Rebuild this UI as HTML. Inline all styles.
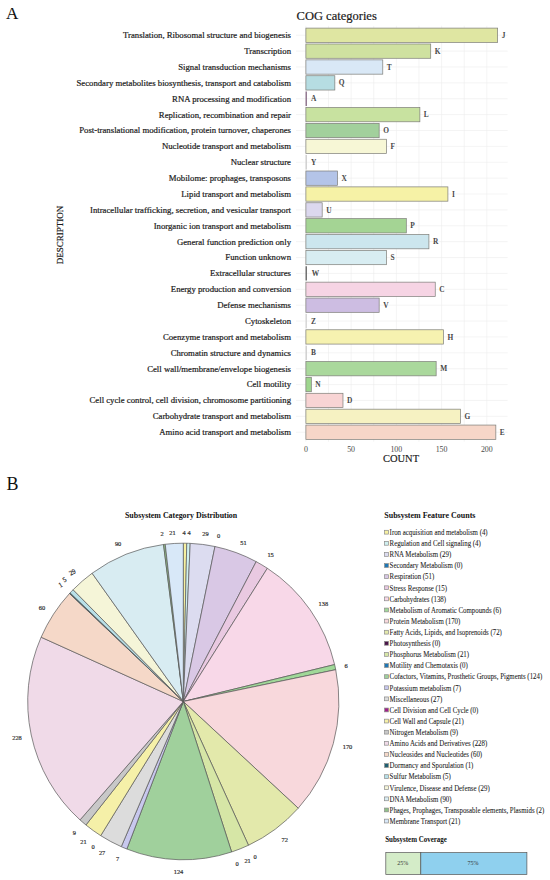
<!DOCTYPE html><html><head><meta charset="utf-8"><style>html,body{margin:0;padding:0;background:#fff;width:550px;height:880px;overflow:hidden}svg{display:block}text{font-family:"Liberation Serif",serif}</style></head><body>
<svg width="550" height="880" viewBox="0 0 550 880">
<rect width="550" height="880" fill="#fff"/>
<text x="6" y="18.7" font-size="17.2" fill="#111">A</text>
<text x="296.6" y="20.1" font-size="12.5" fill="#1a1a1a" stroke="#1a1a1a" stroke-width="0.2">COG categories</text>
<line x1="296" y1="35.25" x2="507.6" y2="35.25" stroke="#ececec" stroke-width="0.6"/>
<line x1="296" y1="51.13" x2="507.6" y2="51.13" stroke="#ececec" stroke-width="0.6"/>
<line x1="296" y1="67.01" x2="507.6" y2="67.01" stroke="#ececec" stroke-width="0.6"/>
<line x1="296" y1="82.88" x2="507.6" y2="82.88" stroke="#ececec" stroke-width="0.6"/>
<line x1="296" y1="98.76" x2="507.6" y2="98.76" stroke="#ececec" stroke-width="0.6"/>
<line x1="296" y1="114.64" x2="507.6" y2="114.64" stroke="#ececec" stroke-width="0.6"/>
<line x1="296" y1="130.52" x2="507.6" y2="130.52" stroke="#ececec" stroke-width="0.6"/>
<line x1="296" y1="146.40" x2="507.6" y2="146.40" stroke="#ececec" stroke-width="0.6"/>
<line x1="296" y1="162.27" x2="507.6" y2="162.27" stroke="#ececec" stroke-width="0.6"/>
<line x1="296" y1="178.15" x2="507.6" y2="178.15" stroke="#ececec" stroke-width="0.6"/>
<line x1="296" y1="194.03" x2="507.6" y2="194.03" stroke="#ececec" stroke-width="0.6"/>
<line x1="296" y1="209.91" x2="507.6" y2="209.91" stroke="#ececec" stroke-width="0.6"/>
<line x1="296" y1="225.79" x2="507.6" y2="225.79" stroke="#ececec" stroke-width="0.6"/>
<line x1="296" y1="241.66" x2="507.6" y2="241.66" stroke="#ececec" stroke-width="0.6"/>
<line x1="296" y1="257.54" x2="507.6" y2="257.54" stroke="#ececec" stroke-width="0.6"/>
<line x1="296" y1="273.42" x2="507.6" y2="273.42" stroke="#ececec" stroke-width="0.6"/>
<line x1="296" y1="289.30" x2="507.6" y2="289.30" stroke="#ececec" stroke-width="0.6"/>
<line x1="296" y1="305.18" x2="507.6" y2="305.18" stroke="#ececec" stroke-width="0.6"/>
<line x1="296" y1="321.05" x2="507.6" y2="321.05" stroke="#ececec" stroke-width="0.6"/>
<line x1="296" y1="336.93" x2="507.6" y2="336.93" stroke="#ececec" stroke-width="0.6"/>
<line x1="296" y1="352.81" x2="507.6" y2="352.81" stroke="#ececec" stroke-width="0.6"/>
<line x1="296" y1="368.69" x2="507.6" y2="368.69" stroke="#ececec" stroke-width="0.6"/>
<line x1="296" y1="384.57" x2="507.6" y2="384.57" stroke="#ececec" stroke-width="0.6"/>
<line x1="296" y1="400.44" x2="507.6" y2="400.44" stroke="#ececec" stroke-width="0.6"/>
<line x1="296" y1="416.32" x2="507.6" y2="416.32" stroke="#ececec" stroke-width="0.6"/>
<line x1="296" y1="432.20" x2="507.6" y2="432.20" stroke="#ececec" stroke-width="0.6"/>
<line x1="305.90" y1="25.8" x2="305.90" y2="441.7" stroke="#ececec" stroke-width="0.6"/>
<line x1="328.51" y1="25.8" x2="328.51" y2="441.7" stroke="#ececec" stroke-width="0.6"/>
<line x1="351.12" y1="25.8" x2="351.12" y2="441.7" stroke="#ececec" stroke-width="0.6"/>
<line x1="373.74" y1="25.8" x2="373.74" y2="441.7" stroke="#ececec" stroke-width="0.6"/>
<line x1="396.35" y1="25.8" x2="396.35" y2="441.7" stroke="#ececec" stroke-width="0.6"/>
<line x1="418.96" y1="25.8" x2="418.96" y2="441.7" stroke="#ececec" stroke-width="0.6"/>
<line x1="441.57" y1="25.8" x2="441.57" y2="441.7" stroke="#ececec" stroke-width="0.6"/>
<line x1="464.19" y1="25.8" x2="464.19" y2="441.7" stroke="#ececec" stroke-width="0.6"/>
<line x1="486.80" y1="25.8" x2="486.80" y2="441.7" stroke="#ececec" stroke-width="0.6"/>
<rect x="305.9" y="28.10" width="191.75" height="14.3" fill="#dfe6a2" stroke="#7d7d78" stroke-width="0.7"/>
<text x="501.65" y="37.85" font-size="7.4" font-weight="700" fill="#484848">J</text>
<text x="291" y="38.15" font-size="8.72" text-anchor="end" fill="#1a1a1a" stroke="#1a1a1a" stroke-width="0.2">Translation, Ribosomal structure and biogenesis</text>
<rect x="305.9" y="43.98" width="124.82" height="14.3" fill="#cfe1a0" stroke="#7d7d78" stroke-width="0.7"/>
<text x="434.72" y="53.73" font-size="7.4" font-weight="700" fill="#484848">K</text>
<text x="291" y="54.03" font-size="8.72" text-anchor="end" fill="#1a1a1a" stroke="#1a1a1a" stroke-width="0.2">Transcription</text>
<rect x="305.9" y="59.86" width="76.88" height="14.3" fill="#d9e8f6" stroke="#7d7d78" stroke-width="0.7"/>
<text x="386.78" y="69.61" font-size="7.4" font-weight="700" fill="#484848">T</text>
<text x="291" y="69.91" font-size="8.72" text-anchor="end" fill="#1a1a1a" stroke="#1a1a1a" stroke-width="0.2">Signal transduction mechanisms</text>
<rect x="305.9" y="75.73" width="28.94" height="14.3" fill="#b6dde2" stroke="#7d7d78" stroke-width="0.7"/>
<text x="338.84" y="85.48" font-size="7.4" font-weight="700" fill="#484848">Q</text>
<text x="291" y="85.78" font-size="8.72" text-anchor="end" fill="#1a1a1a" stroke="#1a1a1a" stroke-width="0.2">Secondary metabolites biosynthesis, transport and catabolism</text>
<line x1="306.2" y1="91.61" x2="306.2" y2="105.91" stroke="#7a5a78" stroke-width="1.2"/>
<text x="310.90" y="101.36" font-size="7.4" font-weight="700" fill="#484848">A</text>
<text x="291" y="101.66" font-size="8.72" text-anchor="end" fill="#1a1a1a" stroke="#1a1a1a" stroke-width="0.2">RNA processing and modification</text>
<rect x="305.9" y="107.49" width="113.97" height="14.3" fill="#c8e2a0" stroke="#7d7d78" stroke-width="0.7"/>
<text x="423.87" y="117.24" font-size="7.4" font-weight="700" fill="#484848">L</text>
<text x="291" y="117.54" font-size="8.72" text-anchor="end" fill="#1a1a1a" stroke="#1a1a1a" stroke-width="0.2">Replication, recombination and repair</text>
<rect x="305.9" y="123.37" width="73.26" height="14.3" fill="#a2d09c" stroke="#7d7d78" stroke-width="0.7"/>
<text x="383.16" y="133.12" font-size="7.4" font-weight="700" fill="#484848">O</text>
<text x="291" y="133.42" font-size="8.72" text-anchor="end" fill="#1a1a1a" stroke="#1a1a1a" stroke-width="0.2">Post-translational modification, protein turnover, chaperones</text>
<rect x="305.9" y="139.25" width="80.50" height="14.3" fill="#f7f7d6" stroke="#7d7d78" stroke-width="0.7"/>
<text x="390.40" y="149.00" font-size="7.4" font-weight="700" fill="#484848">F</text>
<text x="291" y="149.30" font-size="8.72" text-anchor="end" fill="#1a1a1a" stroke="#1a1a1a" stroke-width="0.2">Nucleotide transport and metabolism</text>
<line x1="306.2" y1="155.12" x2="306.2" y2="169.42" stroke="#c8c8c8" stroke-width="1.2"/>
<text x="310.90" y="164.87" font-size="7.4" font-weight="700" fill="#484848">Y</text>
<text x="291" y="165.17" font-size="8.72" text-anchor="end" fill="#1a1a1a" stroke="#1a1a1a" stroke-width="0.2">Nuclear structure</text>
<rect x="305.9" y="171.00" width="31.66" height="14.3" fill="#b4c4e8" stroke="#7d7d78" stroke-width="0.7"/>
<text x="341.56" y="180.75" font-size="7.4" font-weight="700" fill="#484848">X</text>
<text x="291" y="181.05" font-size="8.72" text-anchor="end" fill="#1a1a1a" stroke="#1a1a1a" stroke-width="0.2">Mobilome: prophages, transposons</text>
<rect x="305.9" y="186.88" width="142.01" height="14.3" fill="#f6f2a6" stroke="#7d7d78" stroke-width="0.7"/>
<text x="451.91" y="196.63" font-size="7.4" font-weight="700" fill="#484848">I</text>
<text x="291" y="196.93" font-size="8.72" text-anchor="end" fill="#1a1a1a" stroke="#1a1a1a" stroke-width="0.2">Lipid transport and metabolism</text>
<rect x="305.9" y="202.76" width="16.28" height="14.3" fill="#dcd8ee" stroke="#7d7d78" stroke-width="0.7"/>
<text x="326.18" y="212.51" font-size="7.4" font-weight="700" fill="#484848">U</text>
<text x="291" y="212.81" font-size="8.72" text-anchor="end" fill="#1a1a1a" stroke="#1a1a1a" stroke-width="0.2">Intracellular trafficking, secretion, and vesicular transport</text>
<rect x="305.9" y="218.64" width="100.40" height="14.3" fill="#a4d494" stroke="#7d7d78" stroke-width="0.7"/>
<text x="410.30" y="228.39" font-size="7.4" font-weight="700" fill="#484848">P</text>
<text x="291" y="228.69" font-size="8.72" text-anchor="end" fill="#1a1a1a" stroke="#1a1a1a" stroke-width="0.2">Inorganic ion transport and metabolism</text>
<rect x="305.9" y="234.51" width="123.01" height="14.3" fill="#cce6ee" stroke="#7d7d78" stroke-width="0.7"/>
<text x="432.91" y="244.26" font-size="7.4" font-weight="700" fill="#484848">R</text>
<text x="291" y="244.56" font-size="8.72" text-anchor="end" fill="#1a1a1a" stroke="#1a1a1a" stroke-width="0.2">General function prediction only</text>
<rect x="305.9" y="250.39" width="80.50" height="14.3" fill="#d8edf2" stroke="#7d7d78" stroke-width="0.7"/>
<text x="390.40" y="260.14" font-size="7.4" font-weight="700" fill="#484848">S</text>
<text x="291" y="260.44" font-size="8.72" text-anchor="end" fill="#1a1a1a" stroke="#1a1a1a" stroke-width="0.2">Function unknown</text>
<line x1="306.2" y1="266.27" x2="306.2" y2="280.57" stroke="#505050" stroke-width="1.2"/>
<text x="311.71" y="276.02" font-size="7.4" font-weight="700" fill="#484848">W</text>
<text x="291" y="276.32" font-size="8.72" text-anchor="end" fill="#1a1a1a" stroke="#1a1a1a" stroke-width="0.2">Extracellular structures</text>
<rect x="305.9" y="282.15" width="129.34" height="14.3" fill="#f6d4e4" stroke="#7d7d78" stroke-width="0.7"/>
<text x="439.24" y="291.90" font-size="7.4" font-weight="700" fill="#484848">C</text>
<text x="291" y="292.20" font-size="8.72" text-anchor="end" fill="#1a1a1a" stroke="#1a1a1a" stroke-width="0.2">Energy production and conversion</text>
<rect x="305.9" y="298.03" width="73.26" height="14.3" fill="#cdbde2" stroke="#7d7d78" stroke-width="0.7"/>
<text x="383.16" y="307.78" font-size="7.4" font-weight="700" fill="#484848">V</text>
<text x="291" y="308.08" font-size="8.72" text-anchor="end" fill="#1a1a1a" stroke="#1a1a1a" stroke-width="0.2">Defense mechanisms</text>
<line x1="306.2" y1="313.90" x2="306.2" y2="328.20" stroke="#d0d0d0" stroke-width="1.2"/>
<text x="310.90" y="323.65" font-size="7.4" font-weight="700" fill="#484848">Z</text>
<text x="291" y="323.95" font-size="8.72" text-anchor="end" fill="#1a1a1a" stroke="#1a1a1a" stroke-width="0.2">Cytoskeleton</text>
<rect x="305.9" y="329.78" width="137.48" height="14.3" fill="#f6f2b0" stroke="#7d7d78" stroke-width="0.7"/>
<text x="447.38" y="339.53" font-size="7.4" font-weight="700" fill="#484848">H</text>
<text x="291" y="339.83" font-size="8.72" text-anchor="end" fill="#1a1a1a" stroke="#1a1a1a" stroke-width="0.2">Coenzyme transport and metabolism</text>
<line x1="306.2" y1="345.66" x2="306.2" y2="359.96" stroke="#c8c8c8" stroke-width="1.2"/>
<text x="310.90" y="355.41" font-size="7.4" font-weight="700" fill="#484848">B</text>
<text x="291" y="355.71" font-size="8.72" text-anchor="end" fill="#1a1a1a" stroke="#1a1a1a" stroke-width="0.2">Chromatin structure and dynamics</text>
<rect x="305.9" y="361.54" width="130.25" height="14.3" fill="#aad89c" stroke="#7d7d78" stroke-width="0.7"/>
<text x="440.15" y="371.29" font-size="7.4" font-weight="700" fill="#484848">M</text>
<text x="291" y="371.59" font-size="8.72" text-anchor="end" fill="#1a1a1a" stroke="#1a1a1a" stroke-width="0.2">Cell wall/membrane/envelope biogenesis</text>
<rect x="305.9" y="377.42" width="5.43" height="14.3" fill="#9ed68e" stroke="#7d7d78" stroke-width="0.7"/>
<text x="315.33" y="387.17" font-size="7.4" font-weight="700" fill="#484848">N</text>
<text x="291" y="387.47" font-size="8.72" text-anchor="end" fill="#1a1a1a" stroke="#1a1a1a" stroke-width="0.2">Cell motility</text>
<rect x="305.9" y="393.29" width="37.08" height="14.3" fill="#f8d4d4" stroke="#7d7d78" stroke-width="0.7"/>
<text x="346.98" y="403.04" font-size="7.4" font-weight="700" fill="#484848">D</text>
<text x="291" y="403.34" font-size="8.72" text-anchor="end" fill="#1a1a1a" stroke="#1a1a1a" stroke-width="0.2">Cell cycle control, cell division, chromosome partitioning</text>
<rect x="305.9" y="409.17" width="154.67" height="14.3" fill="#f6f2c2" stroke="#7d7d78" stroke-width="0.7"/>
<text x="464.57" y="418.92" font-size="7.4" font-weight="700" fill="#484848">G</text>
<text x="291" y="419.22" font-size="8.72" text-anchor="end" fill="#1a1a1a" stroke="#1a1a1a" stroke-width="0.2">Carbohydrate transport and metabolism</text>
<rect x="305.9" y="425.05" width="189.94" height="14.3" fill="#f6d6c8" stroke="#7d7d78" stroke-width="0.7"/>
<text x="499.84" y="434.80" font-size="7.4" font-weight="700" fill="#484848">E</text>
<text x="291" y="435.10" font-size="8.72" text-anchor="end" fill="#1a1a1a" stroke="#1a1a1a" stroke-width="0.2">Amino acid transport and metabolism</text>
<text x="305.90" y="451.5" font-size="7.9" text-anchor="middle" fill="#4a4a4a">0</text>
<text x="351.12" y="451.5" font-size="7.9" text-anchor="middle" fill="#4a4a4a">50</text>
<text x="396.35" y="451.5" font-size="7.9" text-anchor="middle" fill="#4a4a4a">100</text>
<text x="441.57" y="451.5" font-size="7.9" text-anchor="middle" fill="#4a4a4a">150</text>
<text x="486.80" y="451.5" font-size="7.9" text-anchor="middle" fill="#4a4a4a">200</text>
<text x="401" y="462" font-size="10.5" text-anchor="middle" fill="#1a1a1a" stroke="#1a1a1a" stroke-width="0.15">COUNT</text>
<text transform="translate(62.5,235) rotate(-90)" x="0" y="0" font-size="9" text-anchor="middle" fill="#1a1a1a" stroke="#1a1a1a" stroke-width="0.2">DESCRIPTION</text>
<text x="6.6" y="489.8" font-size="18" fill="#111">B</text>
<text x="181.1" y="517.8" font-size="7.9" font-weight="700" text-anchor="middle" fill="#111">Subsystem Category Distribution</text>
<path d="M183.3,701.5 L183.30,543.20 A155.6,158.3 0 0 1 186.75,543.24 Z" fill="#f6f0a0" stroke="#585858" stroke-width="0.7" stroke-linejoin="round"/>
<path d="M183.3,701.5 L186.75,543.24 A155.6,158.3 0 0 1 190.19,543.36 Z" fill="#cff0f0" stroke="#585858" stroke-width="0.7" stroke-linejoin="round"/>
<path d="M183.3,701.5 L190.19,543.36 A155.6,158.3 0 0 1 214.98,546.51 Z" fill="#dcdcf0" stroke="#585858" stroke-width="0.7" stroke-linejoin="round"/>
<path d="M183.3,701.5 L214.98,546.51 A155.6,158.3 0 0 1 256.20,561.65 Z" fill="#d9c8e5" stroke="#585858" stroke-width="0.7" stroke-linejoin="round"/>
<path d="M183.3,701.5 L256.20,561.65 A155.6,158.3 0 0 1 267.36,568.29 Z" fill="#e9c9e1" stroke="#585858" stroke-width="0.7" stroke-linejoin="round"/>
<path d="M183.3,701.5 L267.36,568.29 A155.6,158.3 0 0 1 334.61,664.57 Z" fill="#f8d8e8" stroke="#585858" stroke-width="0.7" stroke-linejoin="round"/>
<path d="M183.3,701.5 L334.61,664.57 A155.6,158.3 0 0 1 335.73,669.70 Z" fill="#a0d898" stroke="#585858" stroke-width="0.7" stroke-linejoin="round"/>
<path d="M183.3,701.5 L335.73,669.70 A155.6,158.3 0 0 1 298.24,808.20 Z" fill="#f8d8dc" stroke="#585858" stroke-width="0.7" stroke-linejoin="round"/>
<path d="M183.3,701.5 L298.24,808.20 A155.6,158.3 0 0 1 248.47,845.25 Z" fill="#e3e9ab" stroke="#585858" stroke-width="0.7" stroke-linejoin="round"/>
<path d="M183.3,701.5 L248.47,845.25 A155.6,158.3 0 0 1 231.63,851.97 Z" fill="#d6e6a6" stroke="#585858" stroke-width="0.7" stroke-linejoin="round"/>
<path d="M183.3,701.5 L231.63,851.97 A155.6,158.3 0 0 1 126.85,849.02 Z" fill="#a0d09c" stroke="#585858" stroke-width="0.7" stroke-linejoin="round"/>
<path d="M183.3,701.5 L126.85,849.02 A155.6,158.3 0 0 1 121.27,846.68 Z" fill="#c8c8ee" stroke="#585858" stroke-width="0.7" stroke-linejoin="round"/>
<path d="M183.3,701.5 L121.27,846.68 A155.6,158.3 0 0 1 100.70,835.65 Z" fill="#dcdcdc" stroke="#585858" stroke-width="0.7" stroke-linejoin="round"/>
<path d="M183.3,701.5 L100.70,835.65 A155.6,158.3 0 0 1 85.95,824.99 Z" fill="#f5f0a8" stroke="#585858" stroke-width="0.7" stroke-linejoin="round"/>
<path d="M183.3,701.5 L85.95,824.99 A155.6,158.3 0 0 1 80.02,819.90 Z" fill="#c8c8c8" stroke="#585858" stroke-width="0.7" stroke-linejoin="round"/>
<path d="M183.3,701.5 L80.02,819.90 A155.6,158.3 0 0 1 41.12,637.19 Z" fill="#f0dae8" stroke="#585858" stroke-width="0.7" stroke-linejoin="round"/>
<path d="M183.3,701.5 L41.12,637.19 A155.6,158.3 0 0 1 69.53,593.51 Z" fill="#f5d8c8" stroke="#585858" stroke-width="0.7" stroke-linejoin="round"/>
<path d="M183.3,701.5 L69.53,593.51 A155.6,158.3 0 0 1 70.12,592.87 Z" fill="#1f5f70" stroke="#585858" stroke-width="0.7" stroke-linejoin="round"/>
<path d="M183.3,701.5 L70.12,592.87 A155.6,158.3 0 0 1 73.12,589.72 Z" fill="#b8e0e8" stroke="#585858" stroke-width="0.7" stroke-linejoin="round"/>
<path d="M183.3,701.5 L73.12,589.72 A155.6,158.3 0 0 1 92.12,573.23 Z" fill="#f5f5d8" stroke="#585858" stroke-width="0.7" stroke-linejoin="round"/>
<path d="M183.3,701.5 L92.12,573.23 A155.6,158.3 0 0 1 163.52,544.48 Z" fill="#d8ecf2" stroke="#585858" stroke-width="0.7" stroke-linejoin="round"/>
<path d="M183.3,701.5 L163.52,544.48 A155.6,158.3 0 0 1 165.24,544.27 Z" fill="#90c088" stroke="#585858" stroke-width="0.7" stroke-linejoin="round"/>
<path d="M183.3,701.5 L165.24,544.27 A155.6,158.3 0 0 1 183.30,543.20 Z" fill="#d8e8f8" stroke="#585858" stroke-width="0.7" stroke-linejoin="round"/>
<g transform="translate(184.00,532.70) rotate(0) scale(0.9,1)"><text x="0" y="2.5" font-size="7.1" text-anchor="middle" fill="#2a2a2a" stroke="#2a2a2a" stroke-width="0.2">4</text></g>
<g transform="translate(189.10,532.70) rotate(0) scale(0.9,1)"><text x="0" y="2.5" font-size="7.1" text-anchor="middle" fill="#2a2a2a" stroke="#2a2a2a" stroke-width="0.2">4</text></g>
<g transform="translate(205.50,533.90) rotate(0) scale(0.9,1)"><text x="0" y="2.5" font-size="7.1" text-anchor="middle" fill="#2a2a2a" stroke="#2a2a2a" stroke-width="0.2">29</text></g>
<g transform="translate(218.70,535.90) rotate(0) scale(0.9,1)"><text x="0" y="2.5" font-size="7.1" text-anchor="middle" fill="#2a2a2a" stroke="#2a2a2a" stroke-width="0.2">0</text></g>
<g transform="translate(243.40,542.30) rotate(0) scale(0.9,1)"><text x="0" y="2.5" font-size="7.1" text-anchor="middle" fill="#2a2a2a" stroke="#2a2a2a" stroke-width="0.2">51</text></g>
<g transform="translate(270.60,554.90) rotate(0) scale(0.9,1)"><text x="0" y="2.5" font-size="7.1" text-anchor="middle" fill="#2a2a2a" stroke="#2a2a2a" stroke-width="0.2">15</text></g>
<g transform="translate(323.40,603.00) rotate(0) scale(0.9,1)"><text x="0" y="2.5" font-size="7.1" text-anchor="middle" fill="#2a2a2a" stroke="#2a2a2a" stroke-width="0.2">138</text></g>
<g transform="translate(346.20,665.00) rotate(0) scale(0.9,1)"><text x="0" y="2.5" font-size="7.1" text-anchor="middle" fill="#2a2a2a" stroke="#2a2a2a" stroke-width="0.2">6</text></g>
<g transform="translate(347.50,746.50) rotate(0) scale(0.9,1)"><text x="0" y="2.5" font-size="7.1" text-anchor="middle" fill="#2a2a2a" stroke="#2a2a2a" stroke-width="0.2">170</text></g>
<g transform="translate(284.80,839.60) rotate(0) scale(0.9,1)"><text x="0" y="2.5" font-size="7.1" text-anchor="middle" fill="#2a2a2a" stroke="#2a2a2a" stroke-width="0.2">72</text></g>
<g transform="translate(255.00,856.40) rotate(0) scale(0.9,1)"><text x="0" y="2.5" font-size="7.1" text-anchor="middle" fill="#2a2a2a" stroke="#2a2a2a" stroke-width="0.2">0</text></g>
<g transform="translate(247.60,860.00) rotate(0) scale(0.9,1)"><text x="0" y="2.5" font-size="7.1" text-anchor="middle" fill="#2a2a2a" stroke="#2a2a2a" stroke-width="0.2">21</text></g>
<g transform="translate(237.20,863.40) rotate(0) scale(0.9,1)"><text x="0" y="2.5" font-size="7.1" text-anchor="middle" fill="#2a2a2a" stroke="#2a2a2a" stroke-width="0.2">0</text></g>
<g transform="translate(178.50,871.20) rotate(0) scale(0.9,1)"><text x="0" y="2.5" font-size="7.1" text-anchor="middle" fill="#2a2a2a" stroke="#2a2a2a" stroke-width="0.2">124</text></g>
<g transform="translate(117.50,858.30) rotate(0) scale(0.9,1)"><text x="0" y="2.5" font-size="7.1" text-anchor="middle" fill="#2a2a2a" stroke="#2a2a2a" stroke-width="0.2">7</text></g>
<g transform="translate(102.10,852.20) rotate(0) scale(0.9,1)"><text x="0" y="2.5" font-size="7.1" text-anchor="middle" fill="#2a2a2a" stroke="#2a2a2a" stroke-width="0.2">27</text></g>
<g transform="translate(93.00,846.50) rotate(0) scale(0.9,1)"><text x="0" y="2.5" font-size="7.1" text-anchor="middle" fill="#2a2a2a" stroke="#2a2a2a" stroke-width="0.2">0</text></g>
<g transform="translate(83.40,841.00) rotate(0) scale(0.9,1)"><text x="0" y="2.5" font-size="7.1" text-anchor="middle" fill="#2a2a2a" stroke="#2a2a2a" stroke-width="0.2">21</text></g>
<g transform="translate(74.40,832.30) rotate(0) scale(0.9,1)"><text x="0" y="2.5" font-size="7.1" text-anchor="middle" fill="#2a2a2a" stroke="#2a2a2a" stroke-width="0.2">9</text></g>
<g transform="translate(17.00,737.50) rotate(0) scale(0.9,1)"><text x="0" y="2.5" font-size="7.1" text-anchor="middle" fill="#2a2a2a" stroke="#2a2a2a" stroke-width="0.2">228</text></g>
<g transform="translate(42.00,607.70) rotate(0) scale(0.9,1)"><text x="0" y="2.5" font-size="7.1" text-anchor="middle" fill="#2a2a2a" stroke="#2a2a2a" stroke-width="0.2">60</text></g>
<g transform="translate(60.50,584.70) rotate(-30) scale(0.9,1)"><text x="0" y="2.5" font-size="7.1" text-anchor="middle" fill="#2a2a2a" stroke="#2a2a2a" stroke-width="0.2">1</text></g>
<g transform="translate(64.50,579.60) rotate(-30) scale(0.9,1)"><text x="0" y="2.5" font-size="7.1" text-anchor="middle" fill="#2a2a2a" stroke="#2a2a2a" stroke-width="0.2">5</text></g>
<g transform="translate(72.20,572.00) rotate(-30) scale(0.9,1)"><text x="0" y="2.5" font-size="7.1" text-anchor="middle" fill="#2a2a2a" stroke="#2a2a2a" stroke-width="0.2">29</text></g>
<g transform="translate(118.10,543.40) rotate(0) scale(0.9,1)"><text x="0" y="2.5" font-size="7.1" text-anchor="middle" fill="#2a2a2a" stroke="#2a2a2a" stroke-width="0.2">90</text></g>
<g transform="translate(162.10,533.40) rotate(0) scale(0.9,1)"><text x="0" y="2.5" font-size="7.1" text-anchor="middle" fill="#2a2a2a" stroke="#2a2a2a" stroke-width="0.2">2</text></g>
<g transform="translate(172.50,532.70) rotate(0) scale(0.9,1)"><text x="0" y="2.5" font-size="7.1" text-anchor="middle" fill="#2a2a2a" stroke="#2a2a2a" stroke-width="0.2">21</text></g>
<g transform="translate(384.3,518) scale(0.975,1)"><text x="0" y="0" font-size="8.2" font-weight="700" fill="#111">Subsystem Feature Counts</text></g>
<rect x="384.6" y="530.30" width="3.8" height="3.8" fill="#f6f0a0" stroke="#8a8a8a" stroke-width="0.7"/>
<g transform="translate(389.6,535.00) scale(0.856,1)"><text x="0" y="0" font-size="8" fill="#222" stroke="#222" stroke-width="0.08">Iron acquisition and metabolism (4)</text></g>
<rect x="384.6" y="541.41" width="3.8" height="3.8" fill="#cff0f0" stroke="#8a8a8a" stroke-width="0.7"/>
<g transform="translate(389.6,546.11) scale(0.856,1)"><text x="0" y="0" font-size="8" fill="#222" stroke="#222" stroke-width="0.08">Regulation and Cell signaling (4)</text></g>
<rect x="384.6" y="552.52" width="3.8" height="3.8" fill="#dcdcf0" stroke="#8a8a8a" stroke-width="0.7"/>
<g transform="translate(389.6,557.22) scale(0.856,1)"><text x="0" y="0" font-size="8" fill="#222" stroke="#222" stroke-width="0.08">RNA Metabolism (29)</text></g>
<rect x="384.6" y="563.63" width="3.8" height="3.8" fill="#1f77b4" stroke="#8a8a8a" stroke-width="0.7"/>
<g transform="translate(389.6,568.33) scale(0.856,1)"><text x="0" y="0" font-size="8" fill="#222" stroke="#222" stroke-width="0.08">Secondary Metabolism (0)</text></g>
<rect x="384.6" y="574.74" width="3.8" height="3.8" fill="#d9c8e5" stroke="#8a8a8a" stroke-width="0.7"/>
<g transform="translate(389.6,579.44) scale(0.856,1)"><text x="0" y="0" font-size="8" fill="#222" stroke="#222" stroke-width="0.08">Respiration (51)</text></g>
<rect x="384.6" y="585.85" width="3.8" height="3.8" fill="#e9c9e1" stroke="#8a8a8a" stroke-width="0.7"/>
<g transform="translate(389.6,590.55) scale(0.856,1)"><text x="0" y="0" font-size="8" fill="#222" stroke="#222" stroke-width="0.08">Stress Response (15)</text></g>
<rect x="384.6" y="596.96" width="3.8" height="3.8" fill="#f8d8e8" stroke="#8a8a8a" stroke-width="0.7"/>
<g transform="translate(389.6,601.66) scale(0.856,1)"><text x="0" y="0" font-size="8" fill="#222" stroke="#222" stroke-width="0.08">Carbohydrates (138)</text></g>
<rect x="384.6" y="608.07" width="3.8" height="3.8" fill="#a0d898" stroke="#8a8a8a" stroke-width="0.7"/>
<g transform="translate(389.6,612.77) scale(0.856,1)"><text x="0" y="0" font-size="8" fill="#222" stroke="#222" stroke-width="0.08">Metabolism of Aromatic Compounds (6)</text></g>
<rect x="384.6" y="619.18" width="3.8" height="3.8" fill="#f8d8dc" stroke="#8a8a8a" stroke-width="0.7"/>
<g transform="translate(389.6,623.88) scale(0.856,1)"><text x="0" y="0" font-size="8" fill="#222" stroke="#222" stroke-width="0.08">Protein Metabolism (170)</text></g>
<rect x="384.6" y="630.29" width="3.8" height="3.8" fill="#e3e9ab" stroke="#8a8a8a" stroke-width="0.7"/>
<g transform="translate(389.6,634.99) scale(0.856,1)"><text x="0" y="0" font-size="8" fill="#222" stroke="#222" stroke-width="0.08">Fatty Acids, Lipids, and Isoprenoids (72)</text></g>
<rect x="384.6" y="641.40" width="3.8" height="3.8" fill="#4a1548" stroke="#8a8a8a" stroke-width="0.7"/>
<g transform="translate(389.6,646.10) scale(0.856,1)"><text x="0" y="0" font-size="8" fill="#222" stroke="#222" stroke-width="0.08">Photosynthesis (0)</text></g>
<rect x="384.6" y="652.51" width="3.8" height="3.8" fill="#d6e6a6" stroke="#8a8a8a" stroke-width="0.7"/>
<g transform="translate(389.6,657.21) scale(0.856,1)"><text x="0" y="0" font-size="8" fill="#222" stroke="#222" stroke-width="0.08">Phosphorus Metabolism (21)</text></g>
<rect x="384.6" y="663.62" width="3.8" height="3.8" fill="#1f77b4" stroke="#8a8a8a" stroke-width="0.7"/>
<g transform="translate(389.6,668.32) scale(0.856,1)"><text x="0" y="0" font-size="8" fill="#222" stroke="#222" stroke-width="0.08">Motility and Chemotaxis (0)</text></g>
<rect x="384.6" y="674.73" width="3.8" height="3.8" fill="#a0d09c" stroke="#8a8a8a" stroke-width="0.7"/>
<g transform="translate(389.6,679.43) scale(0.856,1)"><text x="0" y="0" font-size="8" fill="#222" stroke="#222" stroke-width="0.08">Cofactors, Vitamins, Prosthetic Groups, Pigments (124)</text></g>
<rect x="384.6" y="685.84" width="3.8" height="3.8" fill="#c8c8ee" stroke="#8a8a8a" stroke-width="0.7"/>
<g transform="translate(389.6,690.54) scale(0.856,1)"><text x="0" y="0" font-size="8" fill="#222" stroke="#222" stroke-width="0.08">Potassium metabolism (7)</text></g>
<rect x="384.6" y="696.95" width="3.8" height="3.8" fill="#dcdcdc" stroke="#8a8a8a" stroke-width="0.7"/>
<g transform="translate(389.6,701.65) scale(0.856,1)"><text x="0" y="0" font-size="8" fill="#222" stroke="#222" stroke-width="0.08">Miscellaneous (27)</text></g>
<rect x="384.6" y="708.06" width="3.8" height="3.8" fill="#a0208a" stroke="#8a8a8a" stroke-width="0.7"/>
<g transform="translate(389.6,712.76) scale(0.856,1)"><text x="0" y="0" font-size="8" fill="#222" stroke="#222" stroke-width="0.08">Cell Division and Cell Cycle (0)</text></g>
<rect x="384.6" y="719.17" width="3.8" height="3.8" fill="#f5f0a8" stroke="#8a8a8a" stroke-width="0.7"/>
<g transform="translate(389.6,723.87) scale(0.856,1)"><text x="0" y="0" font-size="8" fill="#222" stroke="#222" stroke-width="0.08">Cell Wall and Capsule (21)</text></g>
<rect x="384.6" y="730.28" width="3.8" height="3.8" fill="#c8c8c8" stroke="#8a8a8a" stroke-width="0.7"/>
<g transform="translate(389.6,734.98) scale(0.856,1)"><text x="0" y="0" font-size="8" fill="#222" stroke="#222" stroke-width="0.08">Nitrogen Metabolism (9)</text></g>
<rect x="384.6" y="741.39" width="3.8" height="3.8" fill="#f0dae8" stroke="#8a8a8a" stroke-width="0.7"/>
<g transform="translate(389.6,746.09) scale(0.856,1)"><text x="0" y="0" font-size="8" fill="#222" stroke="#222" stroke-width="0.08">Amino Acids and Derivatives (228)</text></g>
<rect x="384.6" y="752.50" width="3.8" height="3.8" fill="#f5d8c8" stroke="#8a8a8a" stroke-width="0.7"/>
<g transform="translate(389.6,757.20) scale(0.856,1)"><text x="0" y="0" font-size="8" fill="#222" stroke="#222" stroke-width="0.08">Nucleosides and Nucleotides (60)</text></g>
<rect x="384.6" y="763.61" width="3.8" height="3.8" fill="#1f5f70" stroke="#8a8a8a" stroke-width="0.7"/>
<g transform="translate(389.6,768.31) scale(0.856,1)"><text x="0" y="0" font-size="8" fill="#222" stroke="#222" stroke-width="0.08">Dormancy and Sporulation (1)</text></g>
<rect x="384.6" y="774.72" width="3.8" height="3.8" fill="#b8e0e8" stroke="#8a8a8a" stroke-width="0.7"/>
<g transform="translate(389.6,779.42) scale(0.856,1)"><text x="0" y="0" font-size="8" fill="#222" stroke="#222" stroke-width="0.08">Sulfur Metabolism (5)</text></g>
<rect x="384.6" y="785.83" width="3.8" height="3.8" fill="#f5f5d8" stroke="#8a8a8a" stroke-width="0.7"/>
<g transform="translate(389.6,790.53) scale(0.856,1)"><text x="0" y="0" font-size="8" fill="#222" stroke="#222" stroke-width="0.08">Virulence, Disease and Defense (29)</text></g>
<rect x="384.6" y="796.94" width="3.8" height="3.8" fill="#d8ecf2" stroke="#8a8a8a" stroke-width="0.7"/>
<g transform="translate(389.6,801.64) scale(0.856,1)"><text x="0" y="0" font-size="8" fill="#222" stroke="#222" stroke-width="0.08">DNA Metabolism (90)</text></g>
<rect x="384.6" y="808.05" width="3.8" height="3.8" fill="#90c088" stroke="#8a8a8a" stroke-width="0.7"/>
<g transform="translate(389.6,812.75) scale(0.856,1)"><text x="0" y="0" font-size="8" fill="#222" stroke="#222" stroke-width="0.08">Phages, Prophages, Transposable elements, Plasmids (2)</text></g>
<rect x="384.6" y="819.16" width="3.8" height="3.8" fill="#d8e8f8" stroke="#8a8a8a" stroke-width="0.7"/>
<g transform="translate(389.6,823.86) scale(0.856,1)"><text x="0" y="0" font-size="8" fill="#222" stroke="#222" stroke-width="0.08">Membrane Transport (21)</text></g>
<g transform="translate(385.2,842.4) scale(0.9,1)"><text x="0" y="0" font-size="7.75" font-weight="700" fill="#111">Subsystem Coverage</text></g>
<rect x="385.8" y="852.6" width="35" height="21.9" fill="#d4ecc8" stroke="#555" stroke-width="0.7"/>
<rect x="420.8" y="852.6" width="106.1" height="21.9" fill="#8fd0ee" stroke="#555" stroke-width="0.7"/>
<text x="402.8" y="865" font-size="6" text-anchor="middle" fill="#333">25%</text>
<text x="473" y="865" font-size="6" text-anchor="middle" fill="#333">75%</text>
</svg></body></html>
